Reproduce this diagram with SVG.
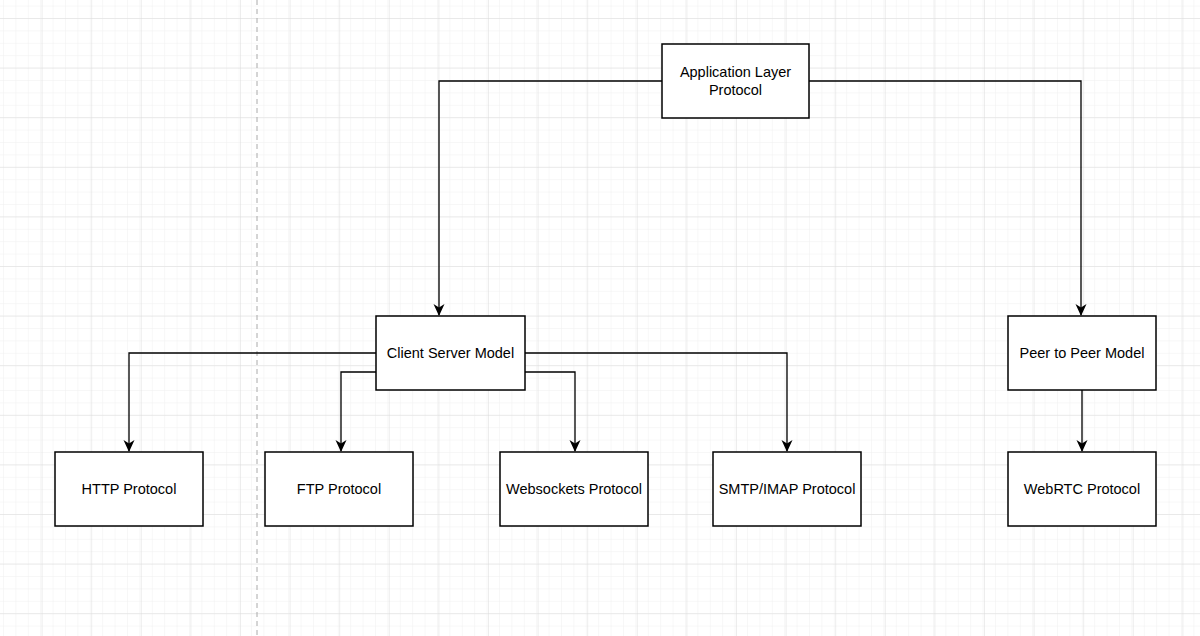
<svg xmlns="http://www.w3.org/2000/svg" width="1200" height="636" viewBox="0 0 1200 636">
<defs>
<pattern id="minor" width="12.4" height="12.4" patternUnits="userSpaceOnUse" x="3" y="5.6"><path d="M0 0H12.4M0 0V12.4" fill="none" stroke="#f0f0f0" stroke-width="1"/></pattern>
<pattern id="major" width="49.6" height="49.6" patternUnits="userSpaceOnUse" x="41.6" y="18"><path d="M0 0H49.6M0 0V49.6" fill="none" stroke="#dcdcdc" stroke-width="1"/></pattern>
<marker id="arr" markerWidth="12" markerHeight="12" refX="11" refY="6" orient="auto" markerUnits="userSpaceOnUse"><path d="M0 0.5L12 6L0 11.5L3.5 6Z" fill="#000"/></marker>
</defs>
<style>
.box{fill:#fff;stroke:#000;stroke-width:1.5}
.t{font-family:"Liberation Sans",Arial,sans-serif;font-size:14.5px;fill:#000;text-anchor:middle;dominant-baseline:central}
.c{fill:none;stroke:#000;stroke-width:1.3;marker-end:url(#arr)}
</style>
<rect width="1200" height="636" fill="#fff"/>
<rect width="1200" height="636" fill="url(#minor)"/>
<rect width="1200" height="636" fill="url(#major)"/>
<line x1="257" y1="0" x2="257" y2="636" stroke="#aaa" stroke-dasharray="5,4"/>
<g id="connectors">
<path class="c" d="M662 81H439V315"/>
<path class="c" d="M809 81H1081V315"/>
<path class="c" d="M376 353H129V451"/>
<path class="c" d="M376 372H341V451"/>
<path class="c" d="M525 372H575V451"/>
<path class="c" d="M525 353H787V451"/>
<path class="c" d="M1082 390V451"/>
</g>
<g id="app"><rect class="box" x="662" y="44" width="147" height="74"/><text class="t" x="735.5" y="72">Application Layer</text><text class="t" x="735.5" y="90">Protocol</text></g>
<g id="client"><rect class="box" x="376" y="316" width="149" height="74"/><text class="t" x="450.5" y="353">Client Server Model</text></g>
<g id="peer"><rect class="box" x="1008" y="316" width="148" height="74"/><text class="t" x="1082" y="353">Peer to Peer Model</text></g>
<g id="http"><rect class="box" x="55" y="452" width="148" height="74"/><text class="t" x="129" y="489">HTTP Protocol</text></g>
<g id="ftp"><rect class="box" x="265" y="452" width="148" height="74"/><text class="t" x="339" y="489">FTP Protocol</text></g>
<g id="ws"><rect class="box" x="500" y="452" width="148" height="74"/><text class="t" x="574" y="489">Websockets Protocol</text></g>
<g id="smtp"><rect class="box" x="713" y="452" width="148" height="74"/><text class="t" x="787" y="489">SMTP/IMAP Protocol</text></g>
<g id="webrtc"><rect class="box" x="1008" y="452" width="148" height="74"/><text class="t" x="1082" y="489">WebRTC Protocol</text></g>
</svg>
